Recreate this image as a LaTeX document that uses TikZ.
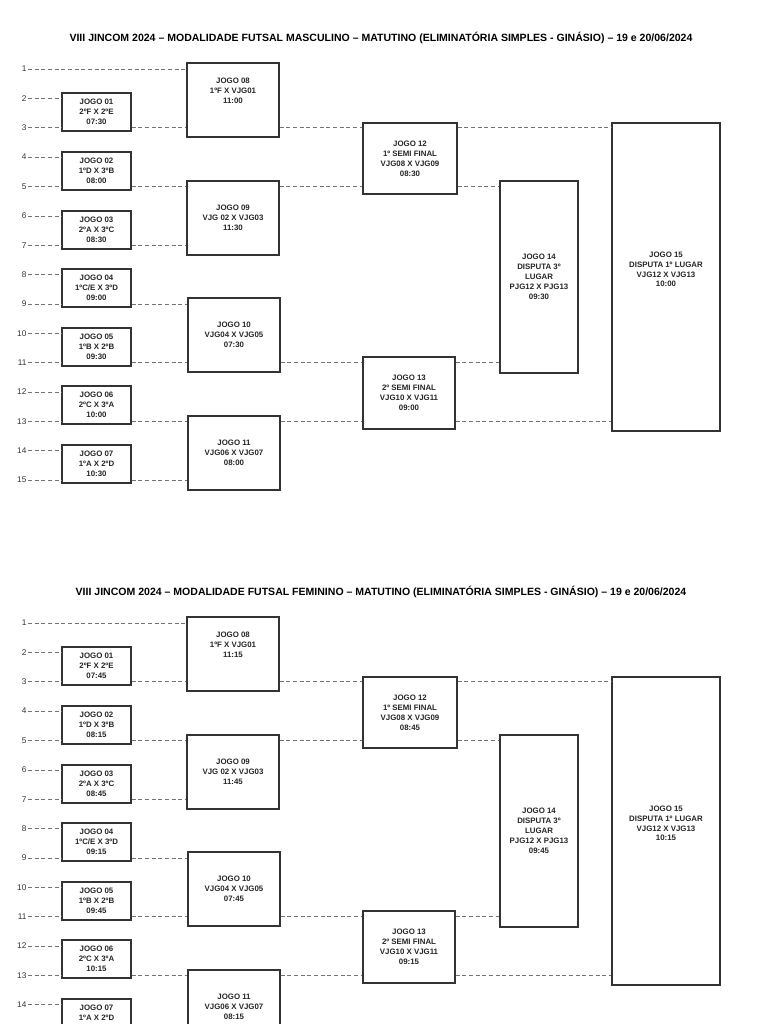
\documentclass[tikz,border=0pt]{standalone}
\usepackage{fontspec}
\setmainfont{Liberation Sans}
\usetikzlibrary{positioning}

\tikzset{
  jogo/.style={draw, thick, black!80, text=black!85, align=center, inner sep=1pt,
    font=\bfseries\fontsize{5.9}{7.4}\selectfont},
  peq/.style={jogo, minimum width=69*0.75pt, minimum height=38*0.75pt},
  med/.style={jogo, minimum width=92*0.75pt, minimum height=74*0.75pt},
  semi/.style={jogo, minimum width=94*0.75pt, minimum height=71*0.75pt},
  fio/.style={densely dashed, black!55, thin},
  linha/.style={anchor=east, inner sep=1pt, font=\fontsize{6.2}{7}\selectfont, text=black!80},
  titulo/.style={font=\bfseries\fontsize{7.9}{9}\selectfont}
}

% one bracket, times read from \hora1 .. \hora15
\newcommand\chave[2]{%
  \node[titulo] (tit) at (381,38) {#2};
  % numbered lines
  \foreach \k in {1,...,15}
    \node[linha] (r\k) at (28,{69+(\k-1)*29.36}) {\k};
  % first round
  \foreach \n/\a/\b/\y [count=\i] in {01/2ºF/2ºE/112, 02/1ºD/3ºB/171, 03/2ºA/3ºC/230,
      04/{1ºC/E}/3ºD/288, 05/1ºB/2ºB/347, 06/2ºC/3ºA/405, 07/1ºA/2ºD/464}
    \node[peq] (j\n) at (96.5,\y) {JOGO \n\\\a{} X \b\\\csname hora\i\endcsname};
  % second round
  \node[med] (j08) at (233,100) {JOGO 08\\1ºF X VJG01\\\hora8\\[6pt]};
  \node[med] (j09) at (233,218) {JOGO 09\\VJG 02 X VJG03\\\hora9};
  \node[med] (j10) at (234,335) {JOGO 10\\VJG04 X VJG05\\\hora{10}};
  \node[med] (j11) at (234,453) {JOGO 11\\VJG06 X VJG07\\\hora{11}};
  % semis and finals
  \node[semi] (j12) at (410,158.5) {JOGO 12\\1º SEMI FINAL\\VJG08 X VJG09\\\hora{12}};
  \node[semi, minimum width=92*0.75pt, minimum height=72*0.75pt] (j13) at (409,393)
    {JOGO 13\\2º SEMI FINAL\\VJG10 X VJG11\\\hora{13}};
  \node[jogo, minimum width=78*0.75pt, minimum height=192*0.75pt] (j14) at (539,277)
    {JOGO 14\\DISPUTA 3º\\LUGAR\\PJG12 X PJG13\\\hora{14}};
  \node[jogo, minimum width=108*0.75pt, minimum height=308*0.75pt] (j15) at (666,277)
    {JOGO 15\\DISPUTA 1º LUGAR\\VJG12 X VJG13\\\hora{15}\\[4pt]};
  % connectors
  \draw[fio] (r1.east) -- (j08.west |- r1);
  \foreach \n/\u/\v in {01/2/3, 02/4/5, 03/6/7, 04/8/9, 05/10/11, 06/12/13, 07/14/15} {
    \draw[fio] (r\u.east) -- (j\n.west |- r\u);
    \draw[fio] (r\v.east) -- (j\n.west |- r\v);
  }
  \foreach \s/\t/\k in {01/08/3, 02/09/5, 03/09/7, 04/10/9, 05/10/11, 06/11/13, 07/11/15,
      08/12/3, 09/12/5, 10/13/11, 11/13/13, 12/15/3, 12/14/5, 13/14/11, 13/15/13}
    \draw[fio] (j\s.east |- r\k) -- (j\t.west |- r\k);
}
\newcommand\horas[1]{\foreach \t [count=\i] in {#1}
  {\expandafter\xdef\csname hora\i\endcsname{\t}}}
\def\hora#1{\csname hora#1\endcsname}

\begin{document}
\begin{tikzpicture}[x=0.75pt, y=-0.75pt]
  \useasboundingbox[fill=white] (0,0) rectangle (768,1024);
  \horas{07:30,08:00,08:30,09:00,09:30,10:00,10:30,11:00,11:30,07:30,08:00,08:30,09:00,09:30,10:00}
  \begin{scope}[name prefix=m-]
    \chave{m}{VIII JINCOM 2024 – MODALIDADE FUTSAL MASCULINO – MATUTINO (ELIMINATÓRIA SIMPLES - GINÁSIO) – 19 e 20/06/2024}
  \end{scope}
  \horas{07:45,08:15,08:45,09:15,09:45,10:15,10:45,11:15,11:45,07:45,08:15,08:45,09:15,09:45,10:15}
  \begin{scope}[name prefix=f-, yshift=-554*0.75pt]
    \chave{f}{VIII JINCOM 2024 – MODALIDADE FUTSAL FEMININO – MATUTINO (ELIMINATÓRIA SIMPLES - GINÁSIO) – 19 e 20/06/2024}
  \end{scope}
\end{tikzpicture}
\end{document}
